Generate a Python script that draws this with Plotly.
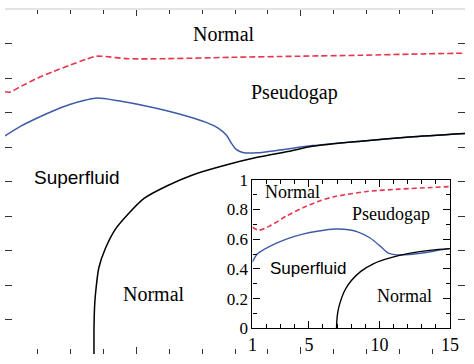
import plotly.graph_objects as go

# ---- main panel data (x: 0..14, y: 0..1) ----
main_red_x = [0, 0.15, 0.49, 0.98, 1.48, 1.97, 2.46, 2.76, 2.95, 3.74, 4.92, 6.89, 8.86, 10.83, 12.8, 14]
main_red_y = [0.760, 0.759, 0.776, 0.799, 0.819, 0.837, 0.854, 0.863, 0.863, 0.856, 0.856, 0.860, 0.863, 0.866, 0.870, 0.872]

main_blue_x = [0, 0.493, 0.983, 1.477, 1.970, 2.460, 2.806, 3.447, 4.430, 5.413, 6.105, 6.497, 6.742, 6.890,
               7.038, 7.236, 7.679, 8.367, 9.353, 10.83, 12.31, 14]
main_blue_y = [0.632, 0.661, 0.684, 0.705, 0.723, 0.736, 0.742, 0.734, 0.716, 0.693, 0.672, 0.654, 0.634, 0.611,
               0.593, 0.584, 0.583, 0.591, 0.604, 0.617, 0.629, 0.639]

main_black_x = [2.708, 2.710, 2.725, 2.756, 2.856, 3.051, 3.346, 3.742, 4.232, 4.923, 5.709, 6.695, 7.679,
                8.662, 9.353, 10.83, 12.31, 14]
main_black_y = [0.0, 0.085, 0.135, 0.176, 0.250, 0.305, 0.360, 0.405, 0.451, 0.487, 0.519, 0.547, 0.570,
                0.588, 0.602, 0.617, 0.629, 0.639]

# ---- inset data (x: 1..15, y: 0..1) ----
ins_red_x = [1, 1.46, 2.26, 3.4, 4.56, 5.7, 6.85, 7.3, 9.1, 11.4, 13.7, 15]
ins_red_y = [0.68, 0.66, 0.69, 0.755, 0.81, 0.855, 0.887, 0.894, 0.92, 0.936, 0.947, 0.953]

ins_blue_x = [1, 1.34, 2.26, 3.4, 4.56, 5.7, 6.85, 7.5, 8.45, 9.37, 10.06, 10.63, 11.2, 12.1, 13.3, 14.2, 15]
ins_blue_y = [0.447, 0.50, 0.553, 0.60, 0.634, 0.655, 0.668, 0.666, 0.649, 0.606, 0.553, 0.506, 0.494, 0.496,
              0.51, 0.525, 0.536]

ins_black_x = [6.96, 6.98, 7.05, 7.2, 7.54, 8.0, 8.68, 9.6, 10.75, 12.1, 13.7, 15]
ins_black_y = [0.0, 0.05, 0.11, 0.17, 0.255, 0.32, 0.383, 0.436, 0.474, 0.504, 0.526, 0.536]

inset_xticks = [1, 5, 10, 15]
inset_yticks = [0, 0.2, 0.4, 0.6, 0.8, 1]
inset_ytext = ["0", "0.2", "0.4", "0.6", "0.8", "1"]

RED = "#e8344c"
BLUE = "#3d5ca8"
BLACK = "#000000"

fig = go.Figure()
sm = 0.7
fig.add_trace(go.Scatter(x=main_red_x, y=main_red_y, mode="lines",
                         line=dict(color=RED, width=1.6, dash="6px,3px", shape="spline", smoothing=sm)))
fig.add_trace(go.Scatter(x=main_blue_x, y=main_blue_y, mode="lines",
                         line=dict(color=BLUE, width=1.5, shape="spline", smoothing=sm)))
fig.add_trace(go.Scatter(x=main_black_x, y=main_black_y, mode="lines",
                         line=dict(color=BLACK, width=1.5, shape="spline", smoothing=sm)))

fig.add_trace(go.Scatter(x=ins_red_x, y=ins_red_y, mode="lines", xaxis="x2", yaxis="y2",
                         line=dict(color=RED, width=1.6, dash="5px,3px", shape="spline", smoothing=sm)))
fig.add_trace(go.Scatter(x=ins_blue_x, y=ins_blue_y, mode="lines", xaxis="x2", yaxis="y2",
                         line=dict(color=BLUE, width=1.4, shape="spline", smoothing=sm)))
fig.add_trace(go.Scatter(x=ins_black_x, y=ins_black_y, mode="lines", xaxis="x2", yaxis="y2",
                         line=dict(color=BLACK, width=1.4, shape="spline", smoothing=sm)))

W, H = 474, 364
serif = "Liberation Serif"
sans = "Liberation Sans"


def ann(text, px, py, size, family):
    fig.add_annotation(text=text, x=px / W, y=1 - py / H, xref="paper", yref="paper",
                       showarrow=False, xanchor="center", yanchor="middle",
                       font=dict(family=family, size=size, color="black"))


ann("Normal", 226, 26, 20, serif)
ann("Pseudogap", 298, 88, 20, serif)
ann("Superfluid", 74, 178, 19, sans)
ann("Normal", 154, 301, 20, serif)
ann("Normal", 296, 193, 18, serif)
ann("Pseudogap", 398, 216, 18, serif)
ann("Superfluid", 313, 274, 17, sans)
ann("Normal", 412, 303, 18, serif)

fig.add_shape(type="line", xref="paper", yref="paper", x0=0, x1=1, y0=1, y1=1,
              line=dict(color="#e4e4e4", width=2))

fig.update_layout(
    width=W, height=H, margin=dict(l=0, r=0, t=0, b=0),
    paper_bgcolor="white", plot_bgcolor="white", showlegend=False,
    xaxis=dict(range=[0, 14], domain=[0, 1], showgrid=False, zeroline=False, showticklabels=False,
               showline=True, linecolor="rgba(0,0,0,0)", mirror="allticks",
               ticks="inside", tickmode="array", tickvals=[4, 9], ticklen=7, tickcolor="#333", tickwidth=1,
               minor=dict(ticks="inside", dtick=1, tick0=0, ticklen=5, tickcolor="#333", tickwidth=1, showgrid=False)),
    yaxis=dict(range=[0, 1], domain=[0, 1], showgrid=False, zeroline=False, showticklabels=False,
               showline=True, linecolor="rgba(0,0,0,0)", mirror="allticks",
               ticks="inside", tickmode="array", tickvals=[0.1 * i for i in range(1, 10)],
               ticklen=7, tickcolor="#333", tickwidth=1),
    xaxis2=dict(range=[1, 15], domain=[255 / W, 458.5 / W], anchor="y2", showgrid=False, zeroline=False,
                showline=True, linecolor="black", linewidth=1.2, mirror="allticks",
                ticks="inside", tickmode="array", tickvals=inset_xticks, ticklen=7, tickcolor="black",
                tickfont=dict(family=serif, size=18, color="black"),
                minor=dict(ticks="inside", dtick=1, tick0=0, ticklen=4, tickcolor="black", showgrid=False)),
    yaxis2=dict(range=[0, 1], domain=[1 - 337 / H, 1 - 180 / H], anchor="x2", showgrid=False, zeroline=False,
                showline=True, linecolor="black", linewidth=1.2, mirror="allticks",
                ticks="inside", tickmode="array", tickvals=inset_yticks, ticktext=inset_ytext,
                ticklen=7, tickcolor="black",
                tickfont=dict(family=serif, size=17, color="black"),
                minor=dict(ticks="inside", dtick=0.1, tick0=0, ticklen=4, tickcolor="black", showgrid=False)),
)

fig.write_html("out.html", config={"displayModeBar": False},
               post_script="document.body.style.margin='0';document.body.style.overflow='hidden';")
